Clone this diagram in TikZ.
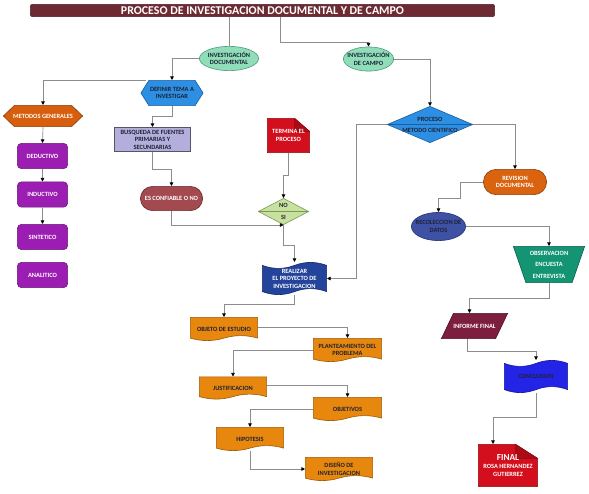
\documentclass[tikz,border=0pt]{standalone}
\usepackage{fontspec}
\setmainfont{Carlito}
\usetikzlibrary{arrows.meta,calc}
\definecolor{txtd}{HTML}{1E2235}
\definecolor{lineg}{HTML}{8C8C8C}
\definecolor{titlec}{HTML}{6D2A33}
\definecolor{mint}{HTML}{8FDDB9}
\definecolor{mintb}{HTML}{4E9A78}
\definecolor{blue1}{HTML}{2C8FE3}
\definecolor{blue1b}{HTML}{1A5FA0}
\definecolor{orng}{HTML}{D65E0C}
\definecolor{orngb}{HTML}{8A3B06}
\definecolor{purp}{HTML}{9C1DB2}
\definecolor{purpb}{HTML}{6A1478}
\definecolor{lav}{HTML}{B3AEDB}
\definecolor{lavb}{HTML}{555566}
\definecolor{confc}{HTML}{A24A4F}
\definecolor{confb}{HTML}{6B2B2F}
\definecolor{redc}{HTML}{D40F1D}
\definecolor{redb}{HTML}{8A0A12}
\definecolor{lgreen}{HTML}{C8E0A0}
\definecolor{lgreenb}{HTML}{7A9A50}
\definecolor{navy}{HTML}{24449C}
\definecolor{navyb}{HTML}{142A66}
\definecolor{revc}{HTML}{DA6310}
\definecolor{recc}{HTML}{3F51A5}
\definecolor{recb}{HTML}{27336E}
\definecolor{teal1}{HTML}{139473}
\definecolor{teal1b}{HTML}{0B5E48}
\definecolor{infc}{HTML}{7D1E3E}
\definecolor{infb}{HTML}{4E1026}
\definecolor{concc}{HTML}{2424E6}
\definecolor{concb}{HTML}{1515A0}
\definecolor{docc}{HTML}{E8870E}
\definecolor{docb}{HTML}{9A5A08}
\newcommand\ppbox{%
 \pgfpointanchor{path picture bounding box}{south west}\pgfgetlastxy\Xa\Ya
 \pgfpointanchor{path picture bounding box}{north east}\pgfgetlastxy\Xb\Yb
 \pgfmathsetlengthmacro\Xa{\Xa+0.4pt}\pgfmathsetlengthmacro\Ya{\Ya+0.4pt}%
 \pgfmathsetlengthmacro\Xb{\Xb-0.4pt}\pgfmathsetlengthmacro\Yb{\Yb-0.4pt}%
 \pgfmathsetlengthmacro\Xm{(\Xa+\Xb)/2}\pgfmathsetlengthmacro\Ym{(\Ya+\Yb)/2}%
 \pgfmathsetlengthmacro\Hh{(\Yb-\Ya)/2}\pgfmathsetlengthmacro\Ww{\Xb-\Xa}%
 \pgfmathsetlengthmacro\Wh{(\Xb-\Xa)/2}}
\newcommand\lbl{\fontsize{6.4pt}{7.5pt}\selectfont\bfseries}
\begin{document}
\begin{tikzpicture}[x=1pt,y=-1pt,
 base/.style={rectangle, inner sep=0pt, outer sep=0pt, align=center, font=\lbl, text=txtd},
 sz/.style 2 args={minimum width=#1pt, minimum height=#2pt},
 hexa/.style n args={3}{base, path picture={\ppbox\filldraw[fill=#1,draw=#2,line width=0.6pt] (\Xa,\Ym) -- ({\Xa+#3},\Yb) -- ({\Xb-#3},\Yb) -- (\Xb,\Ym) -- ({\Xb-#3},\Ya) -- ({\Xa+#3},\Ya) -- cycle;}},
 ell/.style 2 args={base, path picture={\ppbox\filldraw[fill=#1,draw=#2,line width=0.6pt] (\Xm,\Ym) ellipse [x radius=\Wh, y radius=\Hh];}},
 stad/.style 2 args={base, path picture={\ppbox\filldraw[fill=#1,draw=#2,line width=0.6pt] ({\Xa+\Hh},\Ya) -- ({\Xb-\Hh},\Ya) arc[start angle=-90,end angle=90,radius=\Hh] -- ({\Xa+\Hh},\Yb) arc[start angle=90,end angle=270,radius=\Hh] -- cycle;}},
 rrect/.style 2 args={base, path picture={\ppbox\filldraw[fill=#1,draw=#2,line width=0.6pt,rounded corners=4pt] (\Xa,\Ya) rectangle (\Xb,\Yb);}},
 sbox/.style 2 args={base, path picture={\ppbox\filldraw[fill=#1,draw=#2,line width=0.6pt] (\Xa,\Ya) rectangle (\Xb,\Yb);}},
 diam/.style 2 args={base, path picture={\ppbox\filldraw[fill=#1,draw=#2,line width=0.6pt] (\Xa,\Ym) -- (\Xm,\Yb) -- (\Xb,\Ym) -- (\Xm,\Ya) -- cycle; \draw[draw=#2,line width=0.6pt] (\Xa,\Ym) -- (\Xb,\Ym);}},
 fold/.style n args={4}{base, path picture={\ppbox\filldraw[fill=#1,draw=#2,line width=0.6pt] (\Xa,\Ya) -- (\Xa,\Yb) -- ({\Xb-#3},\Yb) -- (\Xb,{\Yb-#4}) -- (\Xb,\Ya) -- cycle; \filldraw[fill=#1!80!black,draw=#2,line width=0.5pt] ({\Xb-#3},\Yb) -- ({\Xb-#3},{\Yb-#4}) -- (\Xb,{\Yb-#4}) -- cycle;}},
 tape/.style 2 args={base, path picture={\ppbox\filldraw[fill=#1,draw=#2,line width=0.6pt] (\Xa,{\Yb-3pt}) .. controls ({\Xa+\Ww/6},{\Yb-7pt}) and ({\Xa+\Ww/3},{\Yb-7pt}) .. (\Xm,{\Yb-3pt}) .. controls ({\Xa+2*\Ww/3},{\Yb+1pt}) and ({\Xa+5*\Ww/6},{\Yb+1pt}) .. (\Xb,{\Yb-3pt}) -- (\Xb,{\Ya+3pt}) .. controls ({\Xa+5*\Ww/6},{\Ya+7pt}) and ({\Xa+2*\Ww/3},{\Ya+7pt}) .. (\Xm,{\Ya+3pt}) .. controls ({\Xa+\Ww/3},{\Ya-1pt}) and ({\Xa+\Ww/6},{\Ya-1pt}) .. (\Xa,{\Ya+3pt}) -- cycle;}},
 docw/.style 2 args={base, path picture={\ppbox\filldraw[fill=#1,draw=#2,line width=0.6pt] (\Xa,\Yb) -- (\Xb,\Yb) -- (\Xb,{\Ya+2.5pt}) .. controls ({\Xa+5*\Ww/6},{\Ya+5.8pt}) and ({\Xa+2*\Ww/3},{\Ya+5.8pt}) .. (\Xm,{\Ya+2.5pt}) .. controls ({\Xa+\Ww/3},{\Ya-0.8pt}) and ({\Xa+\Ww/6},{\Ya-0.8pt}) .. (\Xa,{\Ya+2.5pt}) -- cycle;}},
 trap/.style n args={3}{base, path picture={\ppbox\filldraw[fill=#1,draw=#2,line width=0.6pt] (\Xa,\Yb) -- (\Xb,\Yb) -- ({\Xb-#3},\Ya) -- ({\Xa+#3},\Ya) -- cycle;}},
 para/.style n args={3}{base, path picture={\ppbox\filldraw[fill=#1,draw=#2,line width=0.6pt] ({\Xa+#3},\Yb) -- (\Xb,\Yb) -- ({\Xb-#3},\Ya) -- (\Xa,\Ya) -- cycle;}},
 conn/.style={draw=lineg, line width=0.7pt},
 arr/.style={conn, -{Triangle[length=3.6pt,width=3.6pt,color=black]}},
]
\useasboundingbox[fill=white] (0,0) rectangle (589,493);

% title
\node[base, sz={465}{13}, text=white, font=\fontsize{11.9pt}{13pt}\selectfont\bfseries,
 path picture={\ppbox\filldraw[fill=titlec,draw=titlec!70!black,line width=0.6pt,rounded corners=2pt] (\Xa,\Ya) rectangle (\Xb,\Yb);}]
 (title) at (262.5,10.5) {PROCESO DE INVESTIGACION DOCUMENTAL Y DE CAMPO};

\node[ell={mint}{mintb}, sz={60}{25}] (invdoc) at (229,58.5) {INVESTIGACIÓN\\DOCUMENTAL};
\node[ell={mint}{mintb}, sz={51}{25}] (invcampo) at (368.5,59) {INVESTIGACIÓN\\DE CAMPO};
\node[hexa={blue1}{blue1b}{8pt}, sz={63}{26}] (defn) at (172,93) {DEFINIR TEMA A\\INVESTIGAR};
\node[hexa={orng}{orngb}{11pt}, sz={80}{22}, text=white] (metodos) at (43,116) {METODOS GENERALES};
\node[rrect={purp}{purpb}, sz={51}{26}, text=white] (deduc) at (42.5,156) {DEDUCTIVO};
\node[rrect={purp}{purpb}, sz={51}{26}, text=white] (induc) at (42.5,194.5) {INDUCTIVO};
\node[rrect={purp}{purpb}, sz={51}{26}, text=white] (sint) at (42.5,237) {SINTETICO};
\node[rrect={purp}{purpb}, sz={51}{26}, text=white] (anal) at (42.5,275) {ANALITICO};
\node[sbox={lav}{lavb}, sz={77}{25}] (busq) at (152.5,139.5) {BUSQUEDA DE FUENTES\\PRIMARIAS Y\\SECUNDARIAS};
\node[stad={confc}{confb}, sz={63}{25}, text=white] (conf) at (171.5,198.5) {ES CONFIABLE O NO};
\node[fold={redc}{redb}{15pt}{13pt}, sz={43}{35}, text=white] (term) at (288.5,135.5) {TERMINA EL\\PROCESO};
\node[diam={lgreen}{lgreenb}, sz={51}{27}] (nosi) at (283.5,211.5) {NO\\[4pt]SI};
\node[tape={navy}{navyb}, sz={65}{33}, text=white] (real) at (294.5,278.5) {REALIZAR\\EL PROYECTO DE\\INVESTIGACION};
\node[diam={blue1}{blue1b}, sz={86}{37}] (proc) at (430,124.5) {PROCESO\\[3.6pt]METODO CIENTIFICO};
\node[stad={revc}{orngb}, sz={64}{26}, text=white] (rev) at (515,182) {REVISION\\DOCUMENTAL};
\node[ell={recc}{recb}, sz={55}{29}] (rec) at (438.5,226.5) {RECOLECCION DE\\DATOS};
\node[trap={teal1}{teal1b}{12.5pt}, sz={72}{37}, text=white] (obs) at (549,264.5) {OBSERVACION\\[4pt]ENCUESTA\\[4pt]ENTREVISTA};
\node[para={infc}{infb}{12pt}, sz={67}{26}, text=white] (inf) at (474.5,326) {INFORME FINAL};
\node[tape={concc}{concb}, sz={64}{33}] (conc) at (536,376.5) {CONCLUSION};
\node[fold={redc}{redb}{22pt}{14pt}, sz={60}{43}, text=white] (fin) at (508,465.5) {{\fontsize{9.2pt}{11pt}\selectfont FINAL}\\[1pt]ROSA HERNANDEZ\\GUTIERREZ};
\node[docw={docc}{docb}, sz={68}{24}] (obj) at (224,329) {OBJETO DE ESTUDIO};
\node[docw={docc}{docb}, sz={69}{24}] (plan) at (347.5,350) {PLANTEAMIENTO DEL\\PROBLEMA};
\node[docw={docc}{docb}, sz={68}{23}] (just) at (233,388) {JUSTIFICACION};
\node[docw={docc}{docb}, sz={69}{24}] (objv) at (347.5,409) {OBJETIVOS};
\node[docw={docc}{docb}, sz={68}{24}] (hip) at (250,439) {HIPOTESIS};
\node[docw={docc}{docb}, sz={68}{24}] (dis) at (339,469) {DISEÑO DE\\INVESTIGACION};

% connectors
\draw[conn] (title.south -| invdoc.north) -- (invdoc.north);
\draw[arr] ([xshift=17.5pt]title.south) -- ++(0,25) -| (invcampo.north);
\draw[arr] (invdoc.west) -| (defn.north);
\draw[arr] ([xshift=-26pt]defn.north) -| (metodos.north);
\draw[arr] (defn.south) -- ++(0,10) -| (busq.north);
\draw[arr] (metodos.south) -- (deduc.north);
\draw[arr] (deduc.south) -- (induc.north);
\draw[arr] (induc.south) -- (sint.north);
\draw[arr] (busq.south) -- ++(0,17) -| (conf.north);
\draw[arr] (conf.south) |- (nosi.south);
\draw[arr] (term.south) -- ++(0,22) -| (nosi.north);
\draw[arr] (nosi.south) -- ++(0,20) -| (real.north);
\draw[arr] (invcampo.east) -| (proc.north);
\draw[arr] (proc.west) -- ++(-31,0) |- (real.east);
\draw[arr] (proc.east) -| (rev.north);
\draw[arr] (rev.west) -- ++(-23,0) -- ++(0,16) -| (rec.north);
\draw[arr] (rec.east) -| (obs.north);
\draw[arr] (obs.south) -- ++(0,15) -| ([xshift=-5pt]inf.north);
\draw[arr] ([xshift=-7pt]inf.south) -- ++(0,12) -| (conc.north);
\draw[arr] (conc.south) -- ++(0,24) -| ([xshift=-15pt]fin.north);
\draw[arr] (real.south) -- ++(0,9) -| (obj.north);
\draw[arr] ([yshift=2pt]obj.east) -| (plan.north);
\draw[arr] (plan.west) -| (just.north);
\draw[arr] ([yshift=3pt]just.east) -| (objv.north);
\draw[arr] (objv.west) -| (hip.north);
\draw[arr] (hip.south) |- (dis.west);
\end{tikzpicture}
\end{document}
